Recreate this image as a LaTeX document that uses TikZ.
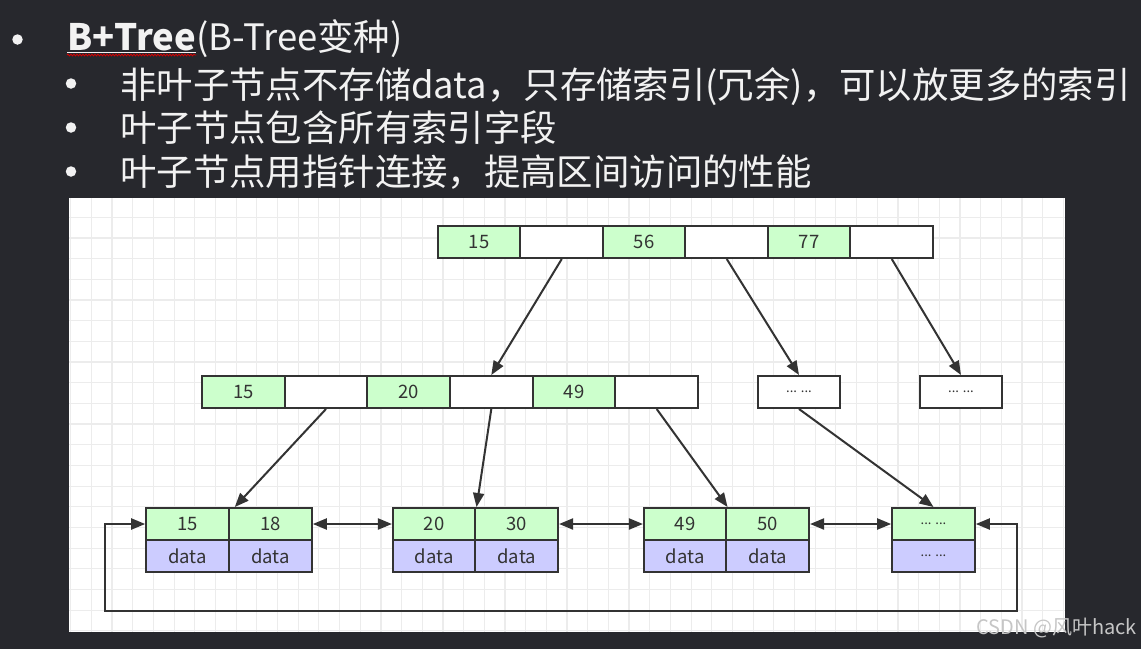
\documentclass[tikz,border=0pt]{standalone}
\usepackage{fontspec}
\setmainfont{Noto Sans CJK SC}
\usetikzlibrary{arrows.meta,calc,decorations.pathmorphing}
\definecolor{bgc}{HTML}{27282D}
\definecolor{hdrc}{HTML}{F2F2F2}
\definecolor{linec}{HTML}{333333}
\definecolor{txtc}{HTML}{333333}
\definecolor{greenc}{HTML}{CCFFCC}
\definecolor{purplec}{HTML}{CCCCFF}
\definecolor{gridc}{HTML}{ECECEC}
\definecolor{wmc}{HTML}{C6C6C6}
\tikzset{
  hdr/.style={inner sep=0pt, text=hdrc, font=\fontsize{36.4}{40}\selectfont, anchor=base west},
  bul/.style={circle, fill=hdrc, inner sep=0pt, minimum size=10.5pt},
  cell/.style={draw=linec, line width=2pt, minimum height=32pt, minimum width=82.6pt,
    inner sep=0pt, text=txtc, font=\fontsize{18.5}{20}\selectfont},
  gcell/.style={cell, fill=greenc},
  wcell/.style={cell, fill=white},
  pcell/.style={cell, fill=purplec},
  dots/.style={font=\fontsize{13}{15}\selectfont},
  arr/.style={draw=linec, line width=2pt, -{Triangle[length=14pt,width=11pt]}},
  darr/.style={draw=linec, line width=2pt, {Triangle[length=14pt,width=11pt]}-{Triangle[length=14pt,width=11pt]}},
}
\begin{document}
\begin{tikzpicture}[x=1pt,y=-1pt]
\fill[bgc] (0,0) rectangle (1141,649);
\useasboundingbox (0,0) rectangle (1141,649);
% header
\node[bul] (bu1) at (17.5,39.5) {};
\node[hdr] (h1a) at (67,50) {\bfseries B+Tree};
\node[hdr] (h1b) at (h1a.base east) {(B-Tree变种)};
\draw[hdrc, line width=1.6pt] ($(h1a.base west)+(0,2.5)$) -- ($(h1a.base east)+(0,2.5)$);
\draw[red!85!black, line width=0.8pt, decorate, decoration={snake, amplitude=0.9pt, segment length=3pt}]
  ($(h1a.base west)+(0,5)$) -- ($(h1a.base east)+(0,5)$);
\node[bul] (bu2) at (71,83.5) {};
\node[hdr] (h2) at (120,98) {非叶子节点不存储data，只存储索引(冗余)，可以放更多的索引};
\node[bul] (bu3) at (71,127.5) {};
\node[hdr] (h3) at (120,141) {叶子节点包含所有索引字段};
\node[bul] (bu4) at (71,171.5) {};
\node[hdr] (h4) at (120,185) {叶子节点用指针连接，提高区间访问的性能};
% panel
\fill[white] (69,198) rectangle (1065,632);
\begin{scope}
\clip (69,198) rectangle (1065,632);
\foreach \i in {0,...,48} \draw[gridc, line width=1.2pt] ({70.7+20.68*\i},198) -- ++(0,434);
\foreach \j in {0,...,21} \draw[gridc, line width=1.2pt] (69,{196.6+20.68*\j}) -- ++(996,0);
\end{scope}
% root
\node[gcell] (t0) at (479.25,242) {15};
\node[wcell] (t1) at (561.75,242) {};
\node[gcell] (t2) at (644.25,242) {56};
\node[wcell] (t3) at (726.75,242) {};
\node[gcell] (t4) at (809.25,242) {77};
\node[wcell] (t5) at (891.75,242) {};
% middle
\node[gcell] (m0) at (243.3,392) {15};
\node[wcell] (m1) at (326,392) {};
\node[gcell] (m2) at (408.7,392) {20};
\node[wcell] (m3) at (491.3,392) {};
\node[gcell] (m4) at (574,392) {49};
\node[wcell] (m5) at (656.7,392) {};
\node[wcell, dots] (b1) at (799,392) {... ...};
\node[wcell, dots] (b2) at (961,392) {... ...};
% leaves
\node[gcell] (l1a) at (187.5,524) {15};
\node[gcell] (l1b) at (270.5,524) {18};
\node[pcell] (d1a) at (187.5,556) {data};
\node[pcell] (d1b) at (270.5,556) {data};
\node[gcell] (l2a) at (434.25,524) {20};
\node[gcell] (l2b) at (516.75,524) {30};
\node[pcell] (d2a) at (434.25,556) {data};
\node[pcell] (d2b) at (516.75,556) {data};
\node[gcell] (l3a) at (685.25,524) {49};
\node[gcell] (l3b) at (767.75,524) {50};
\node[pcell] (d3a) at (685.25,556) {data};
\node[pcell] (d3b) at (767.75,556) {data};
\node[gcell, dots] (l4) at (933.5,524) {... ...};
\node[pcell, dots] (d4) at (933.5,556) {... ...};
% tree arrows
\draw[arr] (t1.south) -- (m3.north);
\draw[arr] (t3.south) -- (b1.north);
\draw[arr] (t5.south) -- (b2.north);
\draw[arr] (m1.south) -- ($(l1a.north east)+(5,0)$);
\draw[arr] (m3.south) -- (l2a.north east);
\draw[arr] (m5.south) -- (l3a.north east);
\draw[arr] (b1.south) -- (l4.north);
% leaf links
\draw[darr] (l1b.east) -- (l2a.west);
\draw[darr] (l2b.east) -- (l3a.west);
\draw[darr] (l3b.east) -- (l4.west);
\coordinate (lpL) at (105,611);
\coordinate (lpR) at (1017,611);
\draw[darr] (l1a.west) -| (lpL) -- (lpR) |- (l4.east);
% watermark
\node[anchor=east, inner sep=0pt, text=wmc, font=\fontsize{20}{22}\selectfont] (wm) at (1137,628) {CSDN @风叶hack};
\end{tikzpicture}
\end{document}
